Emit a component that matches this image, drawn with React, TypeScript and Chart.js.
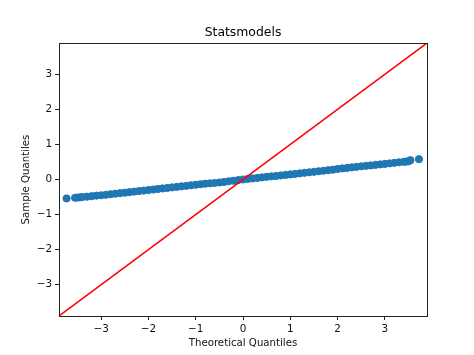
import React, { useEffect, useRef } from "react";
import { Chart, registerables } from "chart.js";

Chart.register(...registerables);

const chartTitle = "Statsmodels";
const xAxisTitle = "Theoretical Quantiles";
const yAxisTitle = "Sample Quantiles";

const axisMin = -3.89;
const axisMax = 3.89;
const tickValues = [-3, -2, -1, 0, 1, 2, 3];

// Theoretical quantiles (x) and sample quantiles (y)
const theoretical = [
  -3.73, -3.55, -3.5, -3.45, -3.4, -3.3, -3.2, -3.1, -3.0, -2.9, -2.8, -2.7, -2.6, -2.5, -2.4,
  -2.3, -2.2, -2.1, -2.0, -1.9, -1.8, -1.7, -1.6, -1.5, -1.4, -1.3, -1.2, -1.1, -1.0, -0.9,
  -0.8, -0.7, -0.6, -0.5, -0.4, -0.3, -0.2, -0.1, 0.0, 0.1, 0.2, 0.3, 0.4, 0.5, 0.6, 0.7,
  0.8, 0.9, 1.0, 1.1, 1.2, 1.3, 1.4, 1.5, 1.6, 1.7, 1.8, 1.9, 2.0, 2.1, 2.2, 2.3, 2.4, 2.5,
  2.6, 2.7, 2.8, 2.9, 3.0, 3.1, 3.2, 3.3, 3.4, 3.45, 3.5, 3.54, 3.72,
];
const sample = [
  -0.54, -0.52, -0.515, -0.51, -0.5, -0.49, -0.475, -0.46, -0.45, -0.435, -0.42, -0.405, -0.39, -0.375, -0.36,
  -0.345, -0.33, -0.315, -0.3, -0.285, -0.27, -0.255, -0.24, -0.225, -0.21, -0.195, -0.18, -0.165, -0.15, -0.135,
  -0.12, -0.11, -0.1, -0.085, -0.07, -0.05, -0.035, -0.015, 0.0, 0.015, 0.03, 0.045, 0.06, 0.075, 0.09, 0.1,
  0.115, 0.13, 0.145, 0.16, 0.175, 0.19, 0.205, 0.22, 0.235, 0.25, 0.265, 0.28, 0.3, 0.315, 0.33, 0.345, 0.36, 0.375,
  0.39, 0.4, 0.415, 0.43, 0.445, 0.46, 0.475, 0.49, 0.505, 0.51, 0.52, 0.55, 0.58,
];

// 45-degree reference line end points
const lineX = [axisMin, axisMax];
const lineY = [axisMin, axisMax];

const fmt = (v: number) => (v < 0 ? "\u2212" + Math.abs(v) : String(v));

const framePlugin = {
  id: "frameAndTitle",
  afterDraw(chart: any) {
    const { ctx, chartArea } = chart;
    ctx.save();
    ctx.strokeStyle = "#222";
    ctx.lineWidth = 1;
    ctx.strokeRect(
      Math.round(chartArea.left) + 0.5,
      Math.round(chartArea.top) + 0.5,
      Math.round(chartArea.right - chartArea.left),
      Math.round(chartArea.bottom - chartArea.top)
    );
    ctx.fillStyle = "#000";
    ctx.font = "12.4px 'DejaVu Sans'";
    ctx.textAlign = "center";
    ctx.textBaseline = "alphabetic";
    ctx.fillText(chartTitle, (chartArea.left + chartArea.right) / 2, 36);
    ctx.restore();
  },
};

export default function App() {
  const ref = useRef<HTMLCanvasElement | null>(null);

  useEffect(() => {
    if (!ref.current) return;
    const tickFont = { family: "'DejaVu Sans'", size: 10.4 };
    const titleFont = { family: "'DejaVu Sans'", size: 10.2 };
    const chart = new Chart(ref.current, {
      type: "scatter",
      data: {
        datasets: [
          {
            label: "line",
            data: lineX.map((x, i) => ({ x, y: lineY[i] })),
            showLine: true,
            borderColor: "#ff0000",
            borderWidth: 1.5,
            pointRadius: 0,
            order: 0,
          },
          {
            label: "sample",
            data: theoretical.map((x, i) => ({ x, y: sample[i] })),
            backgroundColor: "#1f77b4",
            borderColor: "#1f77b4",
            borderWidth: 1,
            pointRadius: 3.6,
            order: 1,
          },
        ],
      },
      options: {
        responsive: false,
        animation: false,
        layout: { padding: { left: 0, right: 47, top: 43, bottom: 0 } },
        plugins: {
          legend: { display: false },
          title: { display: false },
          tooltip: { enabled: false },
        },
        scales: {
          x: {
            type: "linear",
            min: axisMin,
            max: axisMax,
            afterBuildTicks: (axis: any) => {
              axis.ticks = tickValues.map((v) => ({ value: v }));
            },
            afterFit: (axis: any) => {
              axis.height = 39;
            },
            border: { display: false },
            grid: {
              drawOnChartArea: false,
              drawTicks: true,
              tickLength: 4,
              color: "#222",
            },
            ticks: {
              font: tickFont,
              color: "#111",
              padding: 3,
              maxRotation: 0,
              callback: (v: any) => fmt(Number(v)),
            },
            title: {
              display: true,
              text: xAxisTitle,
              font: titleFont,
              color: "#111",
              padding: { top: 0, bottom: 6 },
            },
          },
          y: {
            type: "linear",
            min: axisMin,
            max: axisMax,
            afterBuildTicks: (axis: any) => {
              axis.ticks = tickValues.map((v) => ({ value: v }));
            },
            afterFit: (axis: any) => {
              axis.width = 59;
            },
            border: { display: false },
            grid: {
              drawOnChartArea: false,
              drawTicks: true,
              tickLength: 4,
              color: "#222",
            },
            ticks: {
              font: tickFont,
              color: "#111",
              padding: 3,
              callback: (v: any) => fmt(Number(v)),
            },
            title: {
              display: true,
              text: yAxisTitle,
              font: titleFont,
              color: "#111",
              padding: { top: 20, bottom: 0 },
            },
          },
        },
      },
      plugins: [framePlugin],
    });
    return () => chart.destroy();
  }, []);

  return (
    <div style={{ position: "fixed", left: 0, top: 0, width: 474, height: 355, background: "#fff" }}>
      <canvas ref={ref} width={474} height={355} />
    </div>
  );
}
